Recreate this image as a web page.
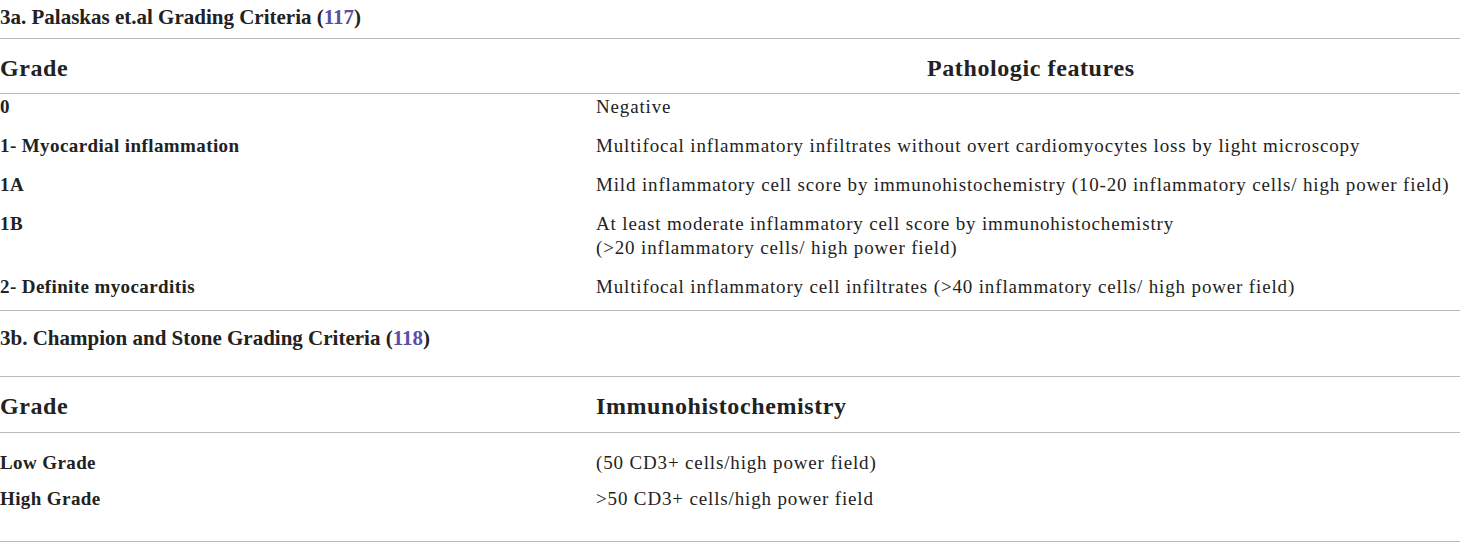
<!DOCTYPE html>
<html><head><meta charset="utf-8">
<script src="https://cdn.jsdelivr.net/npm/chart.js@4/dist/chart.umd.min.js"></script>
<style>
body{margin:0;width:1460px;height:543px;background:#fff;font-family:"Liberation Serif","DejaVu Serif",serif;color:#222;position:relative;overflow:hidden}
.t{position:absolute;white-space:nowrap}
.h{font-weight:bold;font-size:21px}
.hh{font-size:24px;letter-spacing:0.6px}
.r{font-size:19px;letter-spacing:0.85px}
.b{font-weight:bold;letter-spacing:0.4px}
.ln{position:absolute;left:0;width:1460px;height:1px;background:#bbb}
.ref{color:#5b4ea6}
</style></head><body>
<div id="root"></div>
<script>
const titleA="3a. Palaskas et.al Grading Criteria (", refA="117";
const titleB="3b. Champion and Stone Grading Criteria (", refB="118";
const gradesA=["0","1- Myocardial inflammation","1A","1B","2- Definite myocarditis"];
const featuresA=["Negative","Multifocal inflammatory infiltrates without overt cardiomyocytes loss by light microscopy","Mild inflammatory cell score by immunohistochemistry (10-20 inflammatory cells/ high power field)","At least moderate inflammatory cell score by immunohistochemistry<br>(>20 inflammatory cells/ high power field)","Multifocal inflammatory cell infiltrates (>40 inflammatory cells/ high power field)"];
const gradesB=["Low Grade","High Grade"];
const featuresB=["(50 CD3+ cells/high power field)",">50 CD3+ cells/high power field"];
const root=document.getElementById('root');
function t(x,y,html,cls){const d=document.createElement('div');d.className='t '+cls;d.style.left=x+'px';d.style.top=y+'px';d.innerHTML=html;root.appendChild(d);return d;}
function ln(y){const d=document.createElement('div');d.className='ln';d.style.top=y+'px';root.appendChild(d);}
t(0,5,titleA+'<span class="ref">'+refA+'</span>)','h');
ln(38);
t(0,55,'Grade','h hh');
t(927,55,'Pathologic features','h hh');
ln(93);
const yA=[95,134,173,212,275];
gradesA.forEach((g,i)=>{t(0,yA[i],g,'r b');const d=t(596,yA[i],featuresA[i],'r');d.style.lineHeight='24px';});
ln(310);
t(0,326,titleB+'<span class="ref">'+refB+'</span>)','h');
ln(376);
t(0,393,'Grade','h hh');
t(596,393,'Immunohistochemistry','h hh');
ln(432);
const yB=[451,487];
gradesB.forEach((g,i)=>{t(0,yB[i],g,'r b');t(596,yB[i],featuresB[i],'r');});
ln(541);
document.querySelectorAll('.r').forEach(e=>{if(!e.style.lineHeight)e.style.lineHeight='24px';});
</script>
</body></html>
